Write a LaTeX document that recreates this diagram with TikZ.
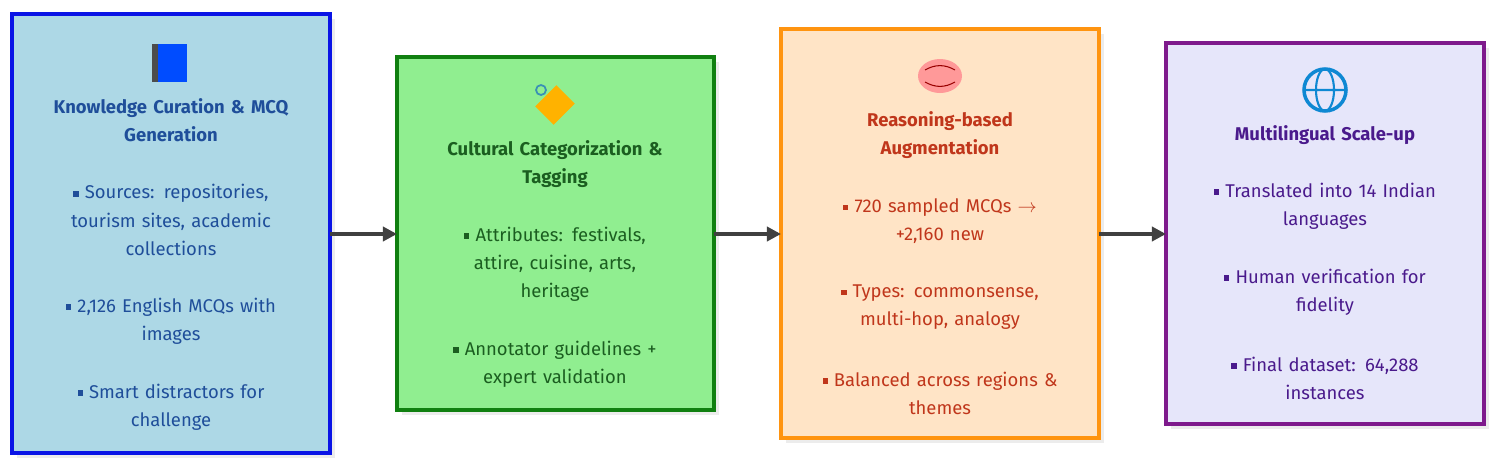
\documentclass[tikz,border=0pt]{standalone}
\usepackage{fontspec}
\setmainfont{Fira Sans}
\usepackage{amssymb}
\usetikzlibrary{arrows.meta,shadows}

\definecolor{bluebd}{HTML}{0A14E6}
\definecolor{bluefill}{HTML}{ADD8E6}
\definecolor{bluetx}{HTML}{1F4E9A}
\definecolor{greenbd}{HTML}{108010}
\definecolor{greenfill}{HTML}{90EE90}
\definecolor{greentx}{HTML}{1B5E20}
\definecolor{orangebd}{HTML}{FF9410}
\definecolor{orangefill}{HTML}{FFE4C6}
\definecolor{orangetx}{HTML}{C0361B}
\definecolor{purplebd}{HTML}{7E1A8C}
\definecolor{purplefill}{HTML}{E6E6FA}
\definecolor{purpletx}{HTML}{4A1A8C}
\definecolor{arrowgray}{HTML}{404040}

\newcommand{\bul}{\raisebox{0.25ex}{\rule{3pt}{3pt}}\ }

\begin{document}
\begin{tikzpicture}[
    x=0.02cm, y=-0.02cm,
    stage/.style={line width=2.2pt, drop shadow={opacity=0.15}},
    txt/.style={align=center, text width=5.8cm, font=\fontsize{10.5}{16}\selectfont},
    title/.style={txt, font=\fontsize{10.5}{16}\selectfont\bfseries},
    flow/.style={line width=2.2pt, arrowgray, -{Triangle[length=8pt,width=8pt]}}
    ]
\useasboundingbox (0,0) rectangle (1502,467);

% stage boxes
\draw[stage, draw=bluebd, fill=bluefill] (12,14) rectangle (330,453);
\draw[stage, draw=greenbd, fill=greenfill] (397,57) rectangle (714,410);
\draw[stage, draw=orangebd, fill=orangefill] (781,29) rectangle (1099,438);
\draw[stage, draw=purplebd, fill=purplefill] (1166,43) rectangle (1484,424);

\coordinate (b1r) at (330,234);
\coordinate (b2l) at (397,234);
\coordinate (b2r) at (714,234);
\coordinate (b3l) at (781,234);
\coordinate (b3r) at (1099,234);
\coordinate (b4l) at (1166,234);

% icons
\fill[blue!70!cyan] (155,44) rectangle (187,82);
\fill[black!70] (152,44) rectangle (158,82);
\fill[orange!60!yellow, rotate around={45:(555,105)}] (540,92) rectangle (570,118);
\draw[cyan!70!black, line width=1pt] (541,90) circle (5);
\fill[pink!80!red] (940,76) ellipse (22 and 17);
\draw[red!60!black, line width=0.6pt] (925,70) to[bend left] (955,70) (925,82) to[bend right] (955,82);
\draw[cyan!70!blue, line width=2pt] (1325,90) circle (21);
\draw[cyan!70!blue, line width=1.2pt] (1325,90) ellipse (9 and 21) (1304,90) -- (1346,90);

% box 1
\node[title, bluetx] (t1) at (171,120) {Knowledge Curation \& MCQ\\Generation};
\node[txt, bluetx] (s1a) at (171,220) {\bul Sources: repositories,\\tourism sites, academic\\collections};
\node[txt, bluetx] (s1b) at (171,321) {\bul 2,126 English MCQs with\\images};
\node[txt, bluetx] (s1c) at (171,407) {\bul Smart distractors for\\challenge};

% box 2
\node[title, greentx] (t2) at (555,164) {Cultural Categorization \&\\Tagging};
\node[txt, greentx] (s2a) at (555,264) {\bul Attributes: festivals,\\attire, cuisine, arts,\\heritage};
\node[txt, greentx] (s2b) at (555,364) {\bul Annotator guidelines +\\expert validation};

% box 3
\node[title, orangetx] (t3) at (940,135) {Reasoning-based\\Augmentation};
\node[txt, orangetx] (s3a) at (940,221) {\bul 720 sampled MCQs $\rightarrow$\\+2,160 new};
\node[txt, orangetx] (s3b) at (940,307) {\bul Types: commonsense,\\multi-hop, analogy};
\node[txt, orangetx] (s3c) at (940,393) {\bul Balanced across regions \&\\themes};

% box 4
\node[title, purpletx] (t4) at (1325,135) {Multilingual Scale-up};
\node[txt, purpletx] (s4a) at (1325,206) {\bul Translated into 14 Indian\\languages};
\node[txt, purpletx] (s4b) at (1325,292) {\bul Human verification for\\fidelity};
\node[txt, purpletx] (s4c) at (1325,378) {\bul Final dataset: 64,288\\instances};

% flow arrows
\draw[flow] (b1r) -- (b2l);
\draw[flow] (b2r) -- (b3l);
\draw[flow] (b3r) -- (b4l);
\end{tikzpicture}
\end{document}
